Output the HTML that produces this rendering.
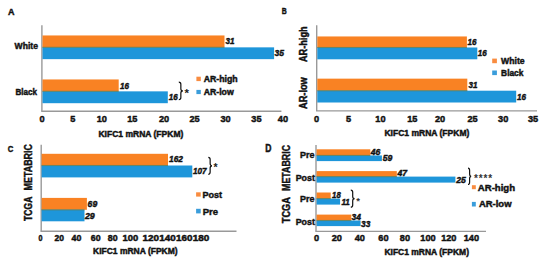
<!DOCTYPE html>
<html><head><meta charset="utf-8"><title>KIFC1 mRNA charts</title>
<style>
html,body{margin:0;padding:0;background:#fff;width:550px;height:265px;overflow:hidden}
svg{display:block;font-family:"Liberation Sans",sans-serif}
text{stroke:#111;stroke-width:0.45px}
</style></head>
<body>
<svg width="550" height="265" viewBox="0 0 550 265">
<rect x="0" y="0" width="550" height="265" fill="#fff"/>
<text x="8" y="15.1" font-size="9.8" font-weight="bold" textLength="6.5" lengthAdjust="spacingAndGlyphs" fill="#111">A</text>
<line x1="41.9" y1="25.2" x2="41.9" y2="111.4" stroke="#999999" stroke-width="1.4"/>
<line x1="41.3" y1="111.2" x2="281.4" y2="111.2" stroke="#999999" stroke-width="1.4"/>
<rect x="42.50" y="35.45" width="182.00" height="11.90" fill="#f98223"/>
<rect x="42.50" y="47.35" width="231.60" height="11.80" fill="#1e96da"/>
<rect x="42.50" y="79.45" width="76.20" height="11.90" fill="#f98223"/>
<rect x="42.50" y="91.35" width="125.30" height="11.85" fill="#1e96da"/>
<text x="225.5" y="44.2" font-size="9.2" font-weight="bold" font-style="italic" textLength="9" lengthAdjust="spacingAndGlyphs" fill="#111">31</text>
<text x="274.5" y="55.9" font-size="9.2" font-weight="bold" font-style="italic" textLength="9.5" lengthAdjust="spacingAndGlyphs" fill="#111">35</text>
<text x="120" y="88.7" font-size="9.2" font-weight="bold" font-style="italic" textLength="9" lengthAdjust="spacingAndGlyphs" fill="#111">16</text>
<text x="168.7" y="100" font-size="9.2" font-weight="bold" font-style="italic" textLength="9" lengthAdjust="spacingAndGlyphs" fill="#111">16</text>
<path d="M178.8,82.1 Q180.85000000000002,82.1 180.85000000000002,84.3 L180.85000000000002,88.7 Q180.85000000000002,90.9 182.9,90.9 Q180.85000000000002,90.9 180.85000000000002,93.10000000000001 L180.85000000000002,97.5 Q180.85000000000002,99.7 178.8,99.7" fill="none" stroke="#111" stroke-width="1.2"/>
<text x="186.7" y="96.77" font-size="11.5" font-weight="bold" text-anchor="middle" fill="#222" style="stroke:none">*</text>
<rect x="196.40" y="76.70" width="4.40" height="4.40" fill="#f98c40"/>
<text x="203.7" y="81.7" font-size="8.8" font-weight="bold" textLength="34" lengthAdjust="spacingAndGlyphs" fill="#111">AR-high</text>
<rect x="196.40" y="89.90" width="4.40" height="4.20" fill="#3a9ddb"/>
<text x="203.7" y="95" font-size="8.8" font-weight="bold" textLength="30" lengthAdjust="spacingAndGlyphs" fill="#111">AR-low</text>
<text x="38" y="48.7" font-size="9" font-weight="bold" text-anchor="end" textLength="23.4" lengthAdjust="spacingAndGlyphs" fill="#111">White</text>
<text x="37" y="94.6" font-size="9" font-weight="bold" text-anchor="end" textLength="21.6" lengthAdjust="spacingAndGlyphs" fill="#111">Black</text>
<text x="42.1" y="121.8" font-size="9.2" font-weight="bold" text-anchor="middle" fill="#111">0</text>
<text x="72.8" y="121.8" font-size="9.2" font-weight="bold" text-anchor="middle" fill="#111">5</text>
<text x="101.8" y="121.8" font-size="9.2" font-weight="bold" text-anchor="middle" fill="#111">10</text>
<text x="132.3" y="121.8" font-size="9.2" font-weight="bold" text-anchor="middle" fill="#111">15</text>
<text x="164" y="121.8" font-size="9.2" font-weight="bold" text-anchor="middle" fill="#111">20</text>
<text x="194.5" y="121.8" font-size="9.2" font-weight="bold" text-anchor="middle" fill="#111">25</text>
<text x="225.6" y="121.8" font-size="9.2" font-weight="bold" text-anchor="middle" fill="#111">30</text>
<text x="256.4" y="121.8" font-size="9.2" font-weight="bold" text-anchor="middle" fill="#111">35</text>
<text x="282.9" y="121.8" font-size="9.2" font-weight="bold" text-anchor="middle" fill="#111">40</text>
<text x="98.4" y="137.2" font-size="8.5" font-weight="bold" textLength="85" lengthAdjust="spacingAndGlyphs" fill="#111">KIFC1 mRNA (FPKM)</text>
<text x="281.8" y="14.4" font-size="9.8" font-weight="bold" textLength="5.0" lengthAdjust="spacingAndGlyphs" fill="#111">B</text>
<line x1="316.7" y1="25.3" x2="316.7" y2="111.1" stroke="#999999" stroke-width="1.4"/>
<line x1="316.0" y1="110.85" x2="537" y2="110.85" stroke="#999999" stroke-width="1.4"/>
<rect x="317.30" y="36.45" width="149.60" height="11.05" fill="#f98223"/>
<rect x="317.30" y="47.50" width="160.00" height="11.80" fill="#1e96da"/>
<rect x="317.30" y="78.65" width="150.00" height="12.05" fill="#f98223"/>
<rect x="317.30" y="90.70" width="198.90" height="11.80" fill="#1e96da"/>
<text x="467.6" y="44.6" font-size="9.2" font-weight="bold" font-style="italic" textLength="9" lengthAdjust="spacingAndGlyphs" fill="#111">16</text>
<text x="477.8" y="55.9" font-size="9.2" font-weight="bold" font-style="italic" textLength="9" lengthAdjust="spacingAndGlyphs" fill="#111">16</text>
<text x="468.5" y="88.3" font-size="9.2" font-weight="bold" font-style="italic" textLength="9" lengthAdjust="spacingAndGlyphs" fill="#111">31</text>
<text x="517" y="100.1" font-size="9.2" font-weight="bold" font-style="italic" textLength="9" lengthAdjust="spacingAndGlyphs" fill="#111">16</text>
<rect x="492.20" y="58.60" width="4.70" height="4.60" fill="#f98c40"/>
<text x="501.1" y="63.9" font-size="8.7" font-weight="bold" textLength="23.5" lengthAdjust="spacingAndGlyphs" fill="#111">White</text>
<rect x="492.20" y="70.50" width="4.70" height="4.60" fill="#3a9ddb"/>
<text x="501.1" y="75.9" font-size="8.7" font-weight="bold" textLength="22.3" lengthAdjust="spacingAndGlyphs" fill="#111">Black</text>
<text transform="translate(306.6,62) rotate(-90)" x="0" y="0" font-size="10" font-weight="bold" textLength="35.6" lengthAdjust="spacingAndGlyphs" fill="#111">AR-high</text>
<text transform="translate(306.9,109) rotate(-90)" x="0" y="0" font-size="10" font-weight="bold" textLength="31.8" lengthAdjust="spacingAndGlyphs" fill="#111">AR-low</text>
<text x="316.5" y="121.5" font-size="9.2" font-weight="bold" text-anchor="middle" fill="#111">0</text>
<text x="348.5" y="121.5" font-size="9.2" font-weight="bold" text-anchor="middle" fill="#111">5</text>
<text x="380.4" y="121.5" font-size="9.2" font-weight="bold" text-anchor="middle" fill="#111">10</text>
<text x="412.3" y="121.5" font-size="9.2" font-weight="bold" text-anchor="middle" fill="#111">15</text>
<text x="440" y="121.5" font-size="9.2" font-weight="bold" text-anchor="middle" fill="#111">20</text>
<text x="472.5" y="121.5" font-size="9.2" font-weight="bold" text-anchor="middle" fill="#111">25</text>
<text x="503.2" y="121.5" font-size="9.2" font-weight="bold" text-anchor="middle" fill="#111">30</text>
<text x="533.0" y="121.5" font-size="9.2" font-weight="bold" text-anchor="middle" fill="#111">35</text>
<text x="384.4" y="135.7" font-size="8.5" font-weight="bold" textLength="85" lengthAdjust="spacingAndGlyphs" fill="#111">KIFC1 mRNA (FPKM)</text>
<text x="7.8" y="152.4" font-size="9.8" font-weight="bold" textLength="5.6" lengthAdjust="spacingAndGlyphs" fill="#111">C</text>
<line x1="41.2" y1="144.8" x2="41.2" y2="231.5" stroke="#999999" stroke-width="1.4"/>
<line x1="40.6" y1="231.3" x2="236.5" y2="231.3" stroke="#999999" stroke-width="1.4"/>
<rect x="41.60" y="153.80" width="126.40" height="11.70" fill="#f98223"/>
<rect x="41.60" y="165.50" width="150.70" height="11.90" fill="#1e96da"/>
<rect x="41.60" y="197.90" width="45.30" height="11.90" fill="#f98223"/>
<rect x="41.60" y="209.80" width="42.90" height="11.50" fill="#1e96da"/>
<text x="169" y="161.7" font-size="9.2" font-weight="bold" font-style="italic" textLength="14" lengthAdjust="spacingAndGlyphs" fill="#111">162</text>
<text x="193" y="174" font-size="9.2" font-weight="bold" font-style="italic" textLength="13.6" lengthAdjust="spacingAndGlyphs" fill="#111">107</text>
<text x="87.6" y="206.9" font-size="9.2" font-weight="bold" font-style="italic" textLength="9.6" lengthAdjust="spacingAndGlyphs" fill="#111">69</text>
<text x="84.9" y="219" font-size="9.2" font-weight="bold" font-style="italic" textLength="9.8" lengthAdjust="spacingAndGlyphs" fill="#111">29</text>
<path d="M208.3,157.3 Q210.15,157.3 210.15,159.5 L210.15,163.60000000000002 Q210.15,165.8 212.0,165.8 Q210.15,165.8 210.15,168.0 L210.15,172.10000000000002 Q210.15,174.3 208.3,174.3" fill="none" stroke="#111" stroke-width="1.2"/>
<text x="215.6" y="171.07" font-size="10.5" font-weight="bold" text-anchor="middle" fill="#222" style="stroke:none">*</text>
<rect x="196.10" y="192.30" width="4.60" height="4.30" fill="#f98c40"/>
<text x="202.5" y="197.8" font-size="9.8" font-weight="bold" textLength="19.6" lengthAdjust="spacingAndGlyphs" fill="#111">Post</text>
<rect x="196.10" y="208.80" width="4.60" height="4.60" fill="#3a9ddb"/>
<text x="202.7" y="214.7" font-size="9.8" font-weight="bold" textLength="15.4" lengthAdjust="spacingAndGlyphs" fill="#111">Pre</text>
<text transform="translate(31.6,190.4) rotate(-90)" x="0" y="0" font-size="10.6" font-weight="bold" textLength="46.3" lengthAdjust="spacingAndGlyphs" fill="#111">METABRIC</text>
<text transform="translate(31.6,220.9) rotate(-90)" x="0" y="0" font-size="10.6" font-weight="bold" textLength="24.2" lengthAdjust="spacingAndGlyphs" fill="#111">TCGA</text>
<text x="38.5" y="241.4" font-size="8.4" font-weight="bold" textLength="4.0" lengthAdjust="spacingAndGlyphs" fill="#111">0</text>
<text x="54.5" y="241.4" font-size="8.4" font-weight="bold" textLength="9.5" lengthAdjust="spacingAndGlyphs" fill="#111">20</text>
<text x="71.5" y="241.4" font-size="8.4" font-weight="bold" textLength="9.8" lengthAdjust="spacingAndGlyphs" fill="#111">40</text>
<text x="90.8" y="241.4" font-size="8.4" font-weight="bold" textLength="9.8" lengthAdjust="spacingAndGlyphs" fill="#111">60</text>
<text x="107.8" y="241.4" font-size="8.4" font-weight="bold" textLength="9.8" lengthAdjust="spacingAndGlyphs" fill="#111">80</text>
<text x="122.6" y="241.4" font-size="8.4" font-weight="bold" textLength="15.7" lengthAdjust="spacingAndGlyphs" fill="#111">100</text>
<text x="142.6" y="241.4" font-size="8.4" font-weight="bold" textLength="16.5" lengthAdjust="spacingAndGlyphs" fill="#111">120</text>
<text x="159.3" y="241.4" font-size="8.4" font-weight="bold" textLength="16.5" lengthAdjust="spacingAndGlyphs" fill="#111">140</text>
<text x="176" y="241.4" font-size="8.4" font-weight="bold" textLength="16.5" lengthAdjust="spacingAndGlyphs" fill="#111">160</text>
<text x="192.7" y="241.4" font-size="8.4" font-weight="bold" textLength="16.6" lengthAdjust="spacingAndGlyphs" fill="#111">180</text>
<text x="93" y="254.3" font-size="8.5" font-weight="bold" textLength="84.6" lengthAdjust="spacingAndGlyphs" fill="#111">KIFC1 mRNA (FPKM)</text>
<text x="265.3" y="151.9" font-size="10" font-weight="bold" textLength="6.2" lengthAdjust="spacingAndGlyphs" fill="#111">D</text>
<line x1="316.0" y1="145" x2="316.0" y2="231.6" stroke="#999999" stroke-width="1.4"/>
<line x1="315.4" y1="231.4" x2="486" y2="231.4" stroke="#999999" stroke-width="1.4"/>
<rect x="316.60" y="149.30" width="53.70" height="6.15" fill="#f98223"/>
<rect x="316.60" y="155.45" width="65.30" height="5.65" fill="#1e96da"/>
<rect x="316.60" y="171.10" width="80.20" height="5.50" fill="#f98223"/>
<rect x="316.60" y="176.60" width="138.80" height="6.00" fill="#1e96da"/>
<rect x="316.60" y="192.50" width="14.10" height="6.10" fill="#f98223"/>
<rect x="316.60" y="198.60" width="23.50" height="6.00" fill="#1e96da"/>
<rect x="316.60" y="214.60" width="34.70" height="5.90" fill="#f98223"/>
<rect x="316.60" y="220.50" width="44.00" height="5.60" fill="#1e96da"/>
<text x="370.8" y="154.9" font-size="9.2" font-weight="bold" font-style="italic" textLength="9.6" lengthAdjust="spacingAndGlyphs" fill="#111">46</text>
<text x="382.7" y="161.2" font-size="9.2" font-weight="bold" font-style="italic" textLength="9.6" lengthAdjust="spacingAndGlyphs" fill="#111">59</text>
<text x="397.5" y="176.3" font-size="9.2" font-weight="bold" font-style="italic" textLength="9.6" lengthAdjust="spacingAndGlyphs" fill="#111">47</text>
<text x="456.3" y="182.6" font-size="9.2" font-weight="bold" font-style="italic" textLength="9.6" lengthAdjust="spacingAndGlyphs" fill="#111">25</text>
<text x="332.1" y="197.7" font-size="9.2" font-weight="bold" font-style="italic" textLength="8.7" lengthAdjust="spacingAndGlyphs" fill="#111">18</text>
<text x="341.4" y="204.5" font-size="9.2" font-weight="bold" font-style="italic" textLength="8.4" lengthAdjust="spacingAndGlyphs" fill="#111">11</text>
<text x="351.6" y="219.8" font-size="9.2" font-weight="bold" font-style="italic" textLength="9.4" lengthAdjust="spacingAndGlyphs" fill="#111">34</text>
<text x="361" y="226.6" font-size="9.2" font-weight="bold" font-style="italic" textLength="9.3" lengthAdjust="spacingAndGlyphs" fill="#111">33</text>
<path d="M468.0,168.1 Q469.6,168.1 469.6,170.29999999999998 L469.6,174.10000000000002 Q469.6,176.3 471.2,176.3 Q469.6,176.3 469.6,178.5 L469.6,182.3 Q469.6,184.5 468.0,184.5" fill="none" stroke="#111" stroke-width="1.2"/>
<text x="476.0" y="181.52" font-size="10" font-weight="bold" text-anchor="middle" fill="#333" style="stroke:none">*</text>
<text x="480.8" y="181.52" font-size="10" font-weight="bold" text-anchor="middle" fill="#333" style="stroke:none">*</text>
<text x="485.5" y="181.52" font-size="10" font-weight="bold" text-anchor="middle" fill="#333" style="stroke:none">*</text>
<text x="490.1" y="181.52" font-size="10" font-weight="bold" text-anchor="middle" fill="#333" style="stroke:none">*</text>
<path d="M350.8,190.1 Q352.70000000000005,190.1 352.70000000000005,192.29999999999998 L352.70000000000005,196.4 Q352.70000000000005,198.6 354.6,198.6 Q352.70000000000005,198.6 352.70000000000005,200.79999999999998 L352.70000000000005,204.9 Q352.70000000000005,207.1 350.8,207.1" fill="none" stroke="#111" stroke-width="1.2"/>
<text x="358.2" y="203.87" font-size="9.5" font-weight="bold" text-anchor="middle" fill="#333" style="stroke:none">*</text>
<rect x="471.90" y="185.20" width="3.90" height="4.00" fill="#f98c40"/>
<text x="477.8" y="190.6" font-size="9.5" font-weight="bold" textLength="37.3" lengthAdjust="spacingAndGlyphs" fill="#111">AR-high</text>
<rect x="471.90" y="201.90" width="3.90" height="4.60" fill="#3a9ddb"/>
<text x="478.9" y="207.2" font-size="9.5" font-weight="bold" textLength="32.6" lengthAdjust="spacingAndGlyphs" fill="#111">AR-low</text>
<text x="314.4" y="158.3" font-size="9.5" font-weight="bold" text-anchor="end" textLength="14.4" lengthAdjust="spacingAndGlyphs" fill="#111">Pre</text>
<text x="314.9" y="180.8" font-size="9.5" font-weight="bold" text-anchor="end" textLength="19.2" lengthAdjust="spacingAndGlyphs" fill="#111">Post</text>
<text x="314.4" y="202" font-size="9.5" font-weight="bold" text-anchor="end" textLength="14.4" lengthAdjust="spacingAndGlyphs" fill="#111">Pre</text>
<text x="314.9" y="224.6" font-size="9.5" font-weight="bold" text-anchor="end" textLength="19.2" lengthAdjust="spacingAndGlyphs" fill="#111">Post</text>
<text transform="translate(289.9,191) rotate(-90)" x="0" y="0" font-size="10.6" font-weight="bold" textLength="46.1" lengthAdjust="spacingAndGlyphs" fill="#111">METABRIC</text>
<text transform="translate(289.9,223.2) rotate(-90)" x="0" y="0" font-size="10.6" font-weight="bold" textLength="26" lengthAdjust="spacingAndGlyphs" fill="#111">TCGA</text>
<text x="316.5" y="240.9" font-size="9.2" font-weight="bold" text-anchor="middle" fill="#111">0</text>
<text x="336.8" y="240.9" font-size="9.2" font-weight="bold" text-anchor="middle" fill="#111">20</text>
<text x="359.8" y="240.9" font-size="9.2" font-weight="bold" text-anchor="middle" fill="#111">40</text>
<text x="383.4" y="240.9" font-size="9.2" font-weight="bold" text-anchor="middle" fill="#111">60</text>
<text x="404.9" y="240.9" font-size="9.2" font-weight="bold" text-anchor="middle" fill="#111">80</text>
<text x="428" y="240.9" font-size="9.2" font-weight="bold" text-anchor="middle" fill="#111">100</text>
<text x="448.8" y="240.9" font-size="9.2" font-weight="bold" text-anchor="middle" fill="#111">120</text>
<text x="471.4" y="240.9" font-size="9.2" font-weight="bold" text-anchor="middle" fill="#111">140</text>
<text x="384.4" y="254.7" font-size="8.5" font-weight="bold" textLength="84.6" lengthAdjust="spacingAndGlyphs" fill="#111">KIFC1 mRNA (FPKM)</text>
<rect x="42.50" y="46.80" width="182.00" height="1.1" fill="#5f7f5c" opacity="0.85"/>
<rect x="42.50" y="90.80" width="76.20" height="1.1" fill="#5f7f5c" opacity="0.85"/>
<rect x="317.30" y="46.95" width="149.60" height="1.1" fill="#5f7f5c" opacity="0.85"/>
<rect x="317.30" y="90.15" width="150.00" height="1.1" fill="#5f7f5c" opacity="0.85"/>
<rect x="41.60" y="164.95" width="126.40" height="1.1" fill="#5f7f5c" opacity="0.85"/>
<rect x="41.60" y="209.25" width="42.90" height="1.1" fill="#5f7f5c" opacity="0.85"/>
<rect x="316.60" y="154.90" width="53.70" height="1.1" fill="#5f7f5c" opacity="0.85"/>
<rect x="316.60" y="176.05" width="80.20" height="1.1" fill="#5f7f5c" opacity="0.85"/>
<rect x="316.60" y="198.05" width="14.10" height="1.1" fill="#5f7f5c" opacity="0.85"/>
<rect x="316.60" y="219.95" width="34.70" height="1.1" fill="#5f7f5c" opacity="0.85"/>
</svg>
</body></html>
